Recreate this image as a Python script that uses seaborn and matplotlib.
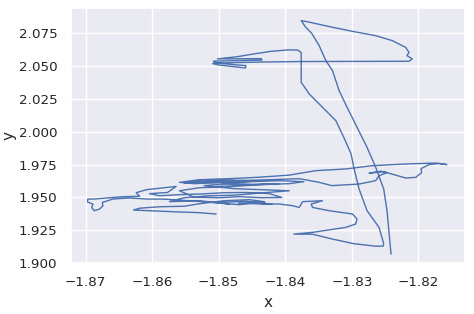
import numpy as np
import pandas as pd
import seaborn as sns
import matplotlib
matplotlib.use("Agg")
import matplotlib.pyplot as plt

# Trajectory (in plotted order)
x_vals = [
    -1.8504, -1.8529, -1.8567, -1.8604, -1.8628, -1.8619, -1.8589, -1.8552, -1.8529, -1.8492,
    -1.8454, -1.8432, -1.8469, -1.8507, -1.8544, -1.8582, -1.8609, -1.8634, -1.8659, -1.8675,
    -1.8674, -1.8679, -1.8687, -1.8691, -1.8689, -1.8697, -1.8697, -1.8687, -1.8664, -1.8642,
    -1.8619, -1.8624, -1.8609, -1.8564, -1.8571, -1.8577, -1.8604, -1.8589, -1.8559, -1.8529,
    -1.8492, -1.8459, -1.8424, -1.8405, -1.8436, -1.8469, -1.8499, -1.8537, -1.8559, -1.8529,
    -1.8484, -1.8439, -1.8394, -1.8372, -1.8409, -1.8454, -1.8499, -1.8537, -1.8559, -1.8529,
    -1.8484, -1.8439, -1.8394, -1.8354, -1.8309, -1.8269, -1.8219, -1.8174, -1.8157, -1.8168,
    -1.8184, -1.8196, -1.8195, -1.8204, -1.8219, -1.8240, -1.8252, -1.8274, -1.8256, -1.8247,
    -1.8259, -1.8264, -1.8289, -1.8330, -1.8349, -1.8379, -1.8424, -1.8469, -1.8514, -1.8552,
    -1.8530, -1.8470, -1.8440, -1.8480, -1.8520, -1.8490, -1.8450, -1.8410, -1.8460, -1.8505,
    -1.8522, -1.8477, -1.8436, -1.8394, -1.8432, -1.8477, -1.8514, -1.8552, -1.8574, -1.8529,
    -1.8484, -1.8500, -1.8460, -1.8430, -1.8470, -1.8420,
    -1.8435, -1.8409, -1.8389, -1.8379, -1.8374, -1.8344, -1.8361, -1.8359, -1.8334,
    -1.8299, -1.8292, -1.8294, -1.8309, -1.8359, -1.8387, -1.8359, -1.8329, -1.8297, -1.8265,
    -1.8253, -1.8252,
    -1.8259, -1.8277, -1.8289, -1.8297, -1.8301, -1.8312, -1.8324, -1.8344, -1.8364, -1.8376,
    -1.8376, -1.8376, -1.8376,
    -1.8381, -1.8394, -1.8421, -1.8447, -1.8472, -1.8502, -1.8436, -1.8435, -1.8508, -1.8502,
    -1.8472, -1.8459, -1.8460, -1.8477, -1.8499, -1.8509, -1.8507, -1.8439, -1.8378, -1.8289,
    -1.8214, -1.8209, -1.8217, -1.8214, -1.8219, -1.8239, -1.8264, -1.8297, -1.8329, -1.8364,
    -1.8376,
    -1.8370, -1.8360, -1.8349, -1.8339, -1.8329, -1.8319, -1.8307, -1.8292, -1.8277, -1.8264,
    -1.8252, -1.8247, -1.8244, -1.8241,
]
y_vals = [
    1.9374, 1.9384, 1.9391, 1.9399, 1.9404, 1.9418, 1.9429, 1.9433, 1.9452, 1.9475,
    1.9483, 1.9468, 1.9445, 1.9460, 1.9475, 1.9487, 1.9488, 1.9496, 1.9488, 1.9462,
    1.9437, 1.9412, 1.9399, 1.9424, 1.9450, 1.9464, 1.9487, 1.9488, 1.9498, 1.9506,
    1.9509, 1.9536, 1.9559, 1.9584, 1.9559, 1.9538, 1.9529, 1.9513, 1.9521, 1.9526,
    1.9536, 1.9538, 1.9529, 1.9500, 1.9498, 1.9506, 1.9498, 1.9502, 1.9551, 1.9574,
    1.9582, 1.9597, 1.9605, 1.9620, 1.9628, 1.9620, 1.9612, 1.9605, 1.9615, 1.9635,
    1.9643, 1.9654, 1.9670, 1.9704, 1.9717, 1.9742, 1.9755, 1.9762, 1.9750, 1.9759,
    1.9750, 1.9719, 1.9689, 1.9653, 1.9648, 1.9679, 1.9696, 1.9685, 1.9700, 1.9689,
    1.9666, 1.9628, 1.9602, 1.9590, 1.9615, 1.9643, 1.9635, 1.9628, 1.9620, 1.9612,
    1.9625, 1.9618, 1.9625, 1.9632, 1.9628, 1.9608, 1.9600, 1.9604, 1.9594, 1.9597,
    1.9590, 1.9567, 1.9559, 1.9551, 1.9536, 1.9517, 1.9513, 1.9498, 1.9468, 1.9475,
    1.9450, 1.9462, 1.9470, 1.9462, 1.9456, 1.9448,
    1.9450, 1.9450, 1.9437, 1.9424, 1.9468, 1.9475, 1.9450, 1.9424, 1.9399,
    1.9374, 1.9336, 1.9298, 1.9272, 1.9234, 1.9221, 1.9220, 1.9183, 1.9148, 1.9129,
    1.9129, 1.9148,
    1.9272, 1.9399, 1.9564, 1.9729, 1.9831, 1.9958, 2.0085, 2.0186, 2.0288, 2.0377,
    2.0466, 2.0542, 2.0603,
    2.0622, 2.0624, 2.0613, 2.0593, 2.0572, 2.0555, 2.0557, 2.0546, 2.0538, 2.0523,
    2.0509, 2.0504, 2.0486, 2.0496, 2.0508, 2.0519, 2.0523, 2.0531, 2.0535, 2.0536,
    2.0537, 2.0555, 2.0580, 2.0605, 2.0643, 2.0694, 2.0732, 2.0763, 2.0796, 2.0835,
    2.0847,
    2.0801, 2.0748, 2.0656, 2.0542, 2.0466, 2.0313, 2.0186, 2.0034, 1.9881, 1.9729,
    1.9564, 1.9399, 1.9231, 1.9069,
]

df = pd.DataFrame({"x": x_vals, "y": y_vals})

sns.set_theme(style="darkgrid")
plt.rcParams["font.family"] = ["DejaVu Sans"]

fig = plt.figure(figsize=(4.74, 3.14), dpi=100)
ax = fig.add_axes([70.7 / 474, 1 - 263.3 / 314, (465 - 70.7) / 474, (263.3 - 8.3) / 314])
sns.lineplot(data=df, x="x", y="y", sort=False, estimator=None, ax=ax,
             color="#4c72b0", linewidth=1.0)
ax.set_xlim(-1.87225, -1.81298)
ax.set_ylim(1.89985, 2.09404)
ax.set_xticks([-1.87, -1.86, -1.85, -1.84, -1.83, -1.82])
ax.set_yticks([1.900, 1.925, 1.950, 1.975, 2.000, 2.025, 2.050, 2.075])
ax.tick_params(labelsize=9.7)
ax.set_xlabel("x", fontsize=11)
ax.set_ylabel("y", fontsize=11)
ax.yaxis.set_label_coords(-0.138, 0.5)
ax.xaxis.set_label_coords(0.5, -0.125)
fig.savefig("out.png", dpi=100)
